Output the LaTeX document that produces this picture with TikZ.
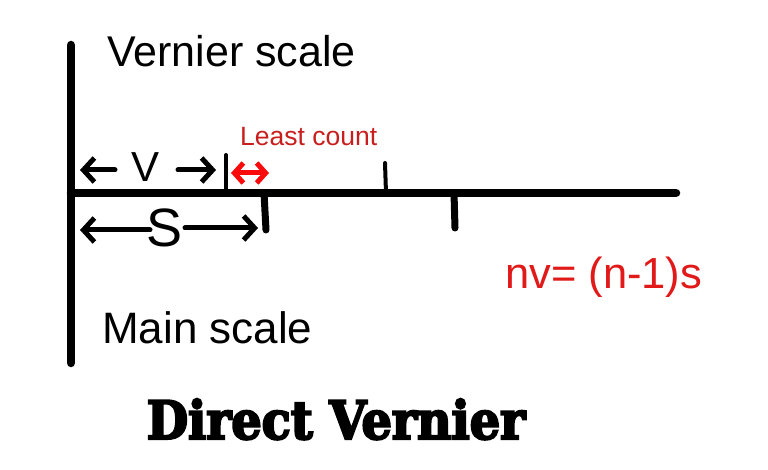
\documentclass[tikz,border=0pt]{standalone}
\usepackage{fontspec}
\setmainfont{Liberation Sans}
\newfontfamily\titlefont[FakeBold=4]{DejaVu Serif Condensed Bold}
\usetikzlibrary{arrows.meta}
\definecolor{lcred}{RGB}{200,30,30}
\definecolor{arrred}{RGB}{250,10,10}
\definecolor{eqred}{RGB}{225,25,25}
\tikzset{
    scaleline/.style={
        line width=8.5pt,
        line cap=round % 粗的刻度线
    },
    thintick/.style={
        line width=4pt,
        line cap=round
    },
    thicktick/.style={
        line width=7pt,
        line cap=round
    },
    handarrow/.style={
        line width=5pt,
        line cap=round,
        -{Straight Barb[length=11pt,width=24pt,line width=5pt]}
    },
    bigtext/.style={
        inner sep=0,
        font=\fontsize{43}{48}\selectfont
    }
}
\begin{document}
\begin{tikzpicture}[x=1pt,y=-1pt]
    \useasboundingbox (0,0) rectangle (768,470);
    % 两条刻度尺
    \coordinate (top) at (71,45);
    \coordinate (bottom) at (71,363);
    \coordinate (origin) at (71,193);
    \coordinate (rightend) at (676,193);
    \draw[scaleline] (top) -- (bottom);
    \draw[scaleline] (origin) -- (rightend);
    % 游标尺刻度
    \coordinate (v1) at (226,155);
    \coordinate (v1b) at (226,193);
    \coordinate (v2) at (385,163);
    \coordinate (v2b) at (386,193);
    \draw[thintick] (v1) -- (v1b);
    \draw[thintick] (v2) -- (v2b);
    % 主尺刻度
    \coordinate (m1) at (264,193);
    \coordinate (m1b) at (266,230);
    \coordinate (m2) at (454,193);
    \coordinate (m2b) at (455,228);
    \draw[thicktick] (m1) -- (m1b);
    \draw[thicktick] (m2) -- (m2b);
    % 文字
    \node[bigtext, anchor=base west] (vernier) at (107,67) {Vernier scale};
    \node[bigtext, anchor=base west, font=\fontsize{44}{48}\selectfont] (main) at (102,343) {Main scale};
    \node[inner sep=0, anchor=base west, text=lcred,
          font=\fontsize{26.5}{30}\selectfont] (lc) at (240,146) {Least count};
    \node[bigtext, anchor=base west, text=eqred,
          font=\fontsize{43.5}{48}\selectfont] (eq) at (505,288) {nv= (n-1)s};
    \node[inner sep=0, anchor=base, font=\fontsize{53}{56}\selectfont\titlefont]
        (title) at (336,439) {Direct Vernier};
    % V 和 S 的箭头
    \node[inner sep=0, anchor=base, font=\fontsize{42}{48}\selectfont] (vlab) at (146,182) {V};
    \node[inner sep=0, anchor=base, font=\fontsize{54}{58}\selectfont] (slab) at (165,247) {S};
    \coordinate (va) at (80,170);
    \coordinate (vb) at (115,170);
    \coordinate (vc) at (178,170);
    \coordinate (vd) at (216,170);
    \draw[handarrow] (vb) -- (va);
    \draw[handarrow] (vc) -- (vd);
    \coordinate (sa) at (80,230);
    \coordinate (sb) at (150,230);
    \coordinate (sc) at (185,228);
    \coordinate (sd) at (258,228);
    \draw[handarrow] (sb) -- (sa);
    \draw[handarrow] (sc) -- (sd);
    % 最小分度
    \coordinate (lca) at (231,173);
    \coordinate (lcb) at (269,173);
    \draw[line width=5pt, arrred, {Straight Barb[length=9pt,width=20pt,line width=5pt]}-{Straight Barb[length=9pt,width=20pt,line width=5pt]}]
        (lca) -- (lcb);
\end{tikzpicture}
\end{document}
